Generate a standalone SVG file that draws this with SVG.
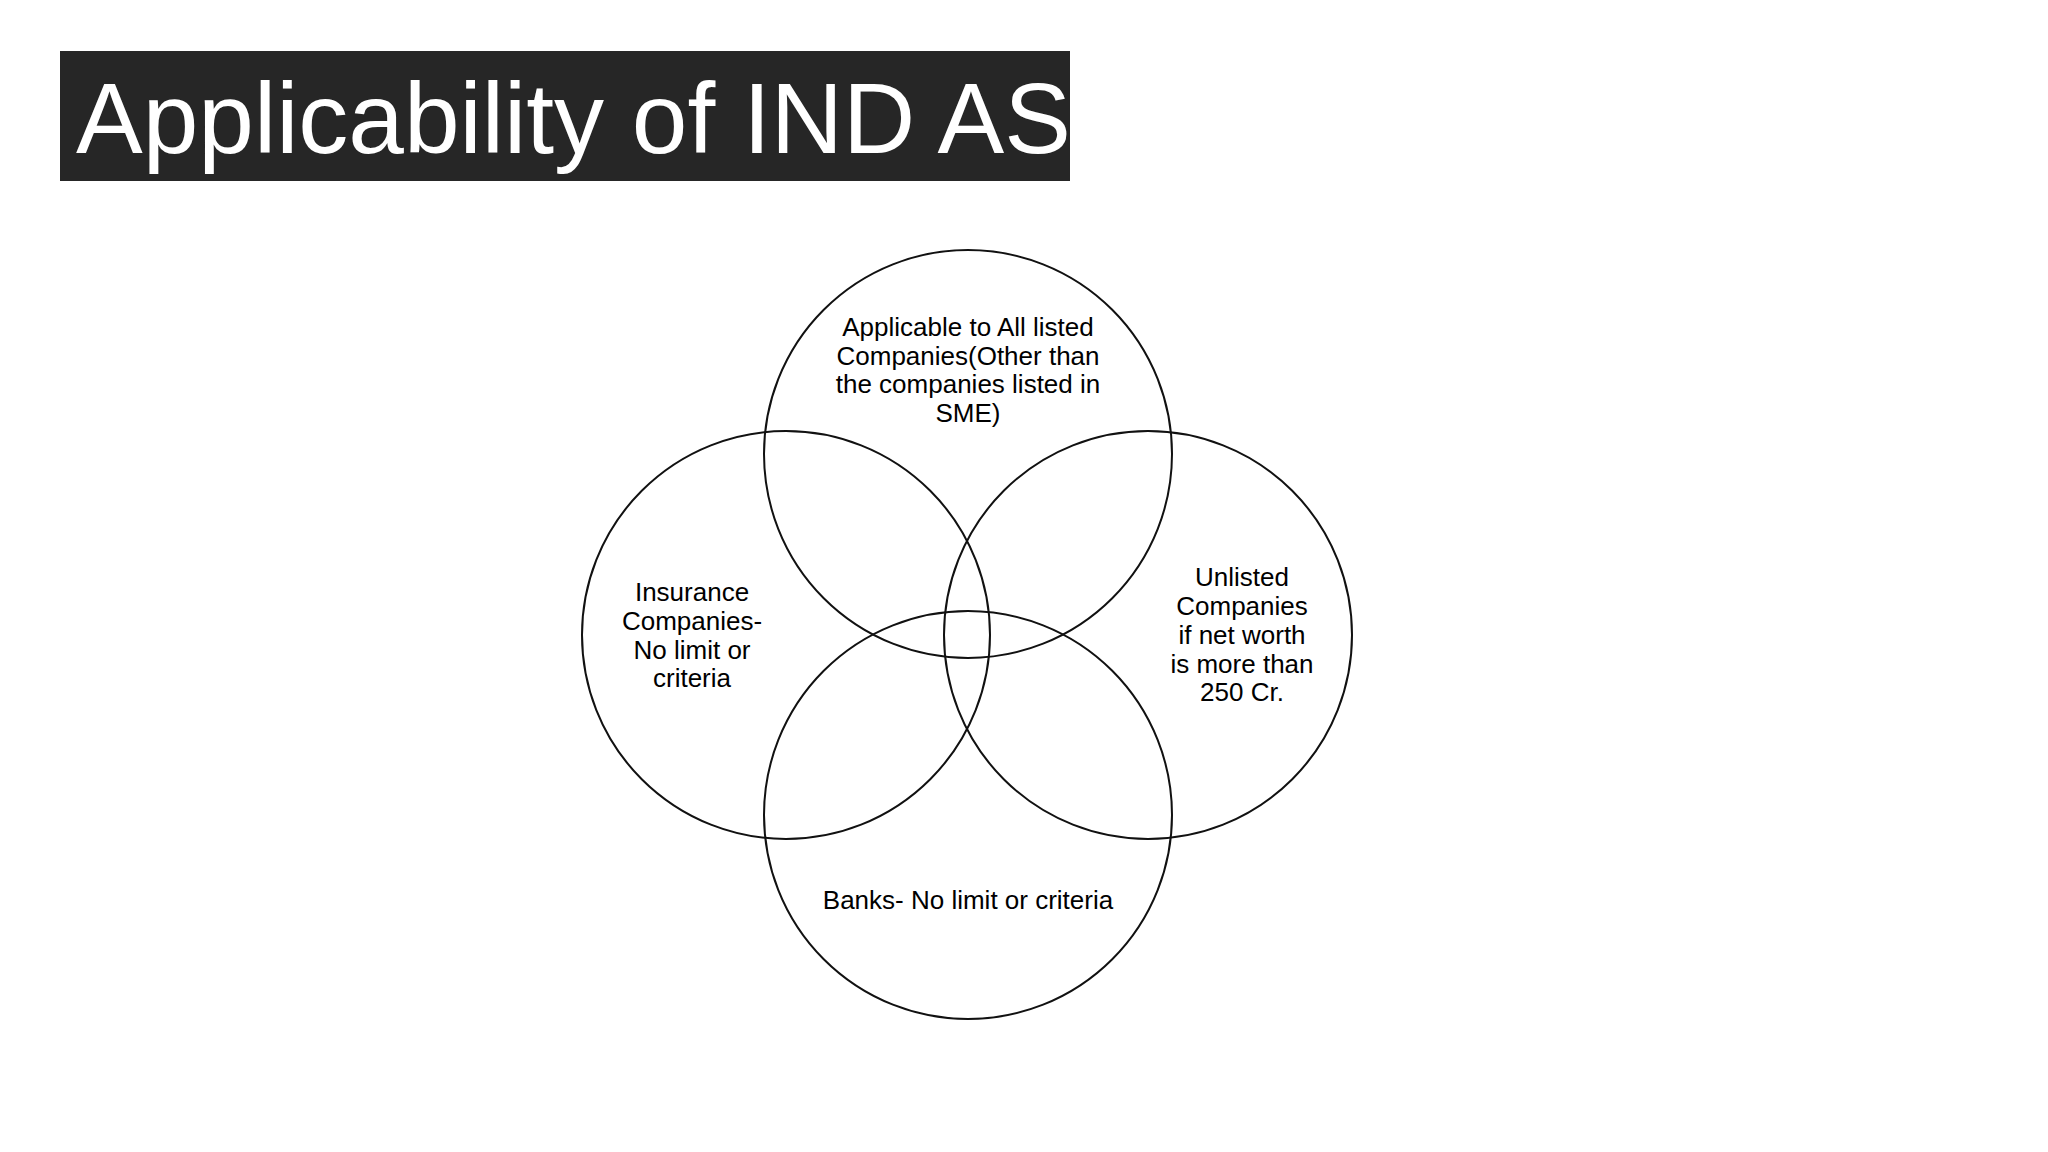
<svg xmlns="http://www.w3.org/2000/svg" width="2048" height="1152" viewBox="0 0 2048 1152">
<style>
.c{fill:none;stroke:#111;stroke-width:2}
.t{font-family:"Liberation Sans",Arial,sans-serif;font-size:26px;fill:#000;text-anchor:middle}
</style>
<rect width="2048" height="1152" fill="#fff"/>
<g id="title"><rect x="60" y="51" width="1010" height="130" fill="#262626"/>
<text x="76" y="153" font-family="Liberation Sans,Arial,sans-serif" font-size="100" fill="#fff">Applicability of IND AS</text></g>
<g id="top"><circle class="c" cx="968" cy="454" r="204"/>
<text class="t"><tspan x="968" y="336">Applicable to All listed</tspan><tspan x="968" y="365">Companies(Other than</tspan><tspan x="968" y="393">the companies listed in</tspan><tspan x="968" y="422">SME)</tspan></text></g>
<g id="left"><circle class="c" cx="786" cy="635" r="204"/>
<text class="t"><tspan x="692" y="601">Insurance</tspan><tspan x="692" y="630">Companies-</tspan><tspan x="692" y="659">No limit or</tspan><tspan x="692" y="687">criteria</tspan></text></g>
<g id="right"><circle class="c" cx="1148" cy="635" r="204"/>
<text class="t"><tspan x="1242" y="586">Unlisted</tspan><tspan x="1242" y="615">Companies</tspan><tspan x="1242" y="644">if net worth</tspan><tspan x="1242" y="673">is more than</tspan><tspan x="1242" y="701">250 Cr.</tspan></text></g>
<g id="bottom"><circle class="c" cx="968" cy="815" r="204"/>
<text class="t" x="968" y="909">Banks- No limit or criteria</text></g>
<g id="connectors"/>
</svg>
